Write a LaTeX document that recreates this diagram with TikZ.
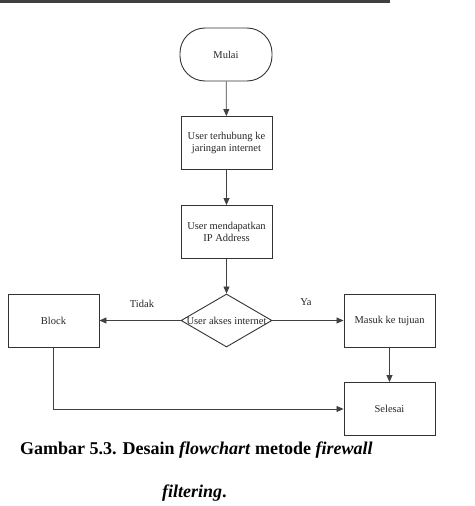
\documentclass[tikz,border=0pt]{standalone}
\usepackage{fontspec}
\setmainfont{Liberation Serif}
\usetikzlibrary{shapes.geometric,arrows.meta}
\tikzset{
  box/.style={draw=black!80, line width=0.9pt, rectangle, minimum width=91pt, minimum height=53pt, inner sep=1pt, align=center, font=\fontsize{10.5}{12}\selectfont, text=black!85},
  term/.style={box, rounded corners=25pt, minimum width=92pt},
  decision/.style={draw=black!80, line width=0.9pt, diamond, minimum width=91pt, minimum height=53pt, inner sep=0pt, aspect=1.7},
  flow/.style={draw=black!75, line width=0.8pt, -{Triangle[length=7pt,width=6pt]}},
  lbl/.style={font=\fontsize{10.5}{12}\selectfont, text=black!85},
}
\begin{document}
\begin{tikzpicture}[x=1pt,y=-1pt]
\useasboundingbox (0,0) rectangle (474,506);
\fill[black!75] (0,0) rectangle (390,3);
\node[term] (start) at (226,54.5) {Mulai};
\node[box] (b1) at (226.5,143) {User terhubung ke\\jaringan internet};
\node[box] (b2) at (226.5,232) {User mendapatkan\\IP Address};
\node[decision, label={[lbl]center:User akses internet}] (d) at (226.5,320.5) {};
\node[box] (block) at (53.5,320.5) {Block};
\node[box] (masuk) at (389.5,320.5) {Masuk ke tujuan};
\node[box] (end) at (389.5,409) {Selesai};
\draw[flow] (start) -- (b1);
\draw[flow] (b1) -- (b2);
\draw[flow] (b2) -- (d);
\draw[flow] (d.west) -- (block.east);
\draw[flow] (d.east) -- (masuk.west);
\draw[flow] (masuk) -- (end);
\draw[flow] (block.south) |- (end.west);
\node[lbl] (tidak) at (142,304) {Tidak};
\node[lbl] (ya) at (306,302) {Ya};
\node[font=\fontsize{18}{22}\selectfont\bfseries, anchor=base west, inner sep=0] (cap1) at (20,454) {Gambar 5.3. Desain \textit{flowchart} metode \textit{firewall}};
\node[font=\fontsize{18}{22}\selectfont\bfseries, anchor=base west, inner sep=0] (cap2) at (162,497) {\textit{filtering}.};
\end{tikzpicture}
\end{document}
